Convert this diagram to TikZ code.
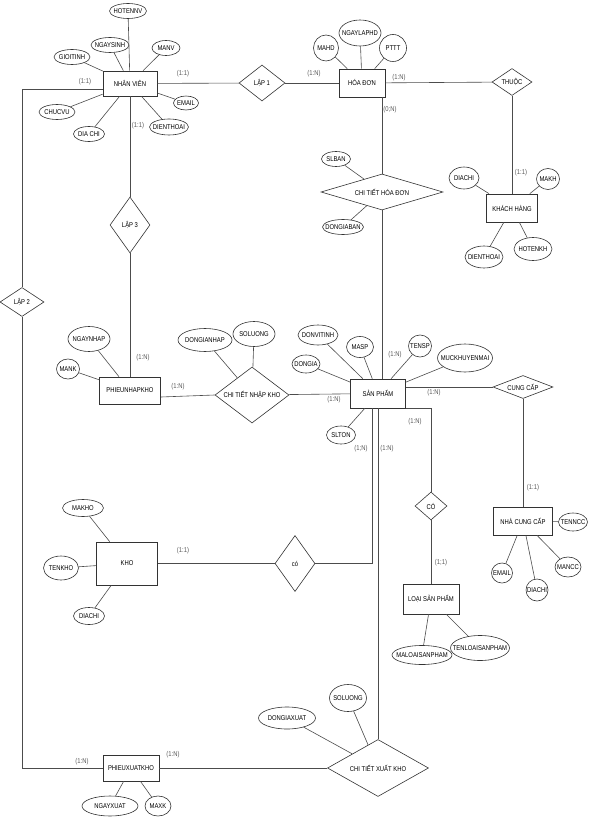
\documentclass[tikz,border=0pt]{standalone}
\usepackage{fontspec}
\setmainfont{Liberation Sans}[FakeStretch=0.84]
\usepackage{tikz}
\usetikzlibrary{shapes.geometric}

\tikzset{
  boxtext/.style={execute at begin node={\hbox to 0pt\bgroup\hss}, execute at end node={\hss\egroup}},
  entity/.style 2 args={rectangle, draw=black!80, line width=0.7pt, minimum width=#1, minimum height=#2},
  attr/.style 2 args={ellipse, draw=black!80, line width=0.6pt, boxtext, minimum width=#1, minimum height=#2},
  rel/.style 2 args={diamond, draw=black!80, line width=0.6pt, boxtext, minimum width=#1, minimum height=#2},
  card/.style={text=black!65}
}

\begin{document}
\begin{tikzpicture}[x=1pt,y=-1pt,every node/.style={font=\fontsize{7}{8}\selectfont, inner sep=0pt},
    every edge/.style={draw=black!70, line width=0.6pt}, conn/.style={draw=black!70, line width=0.6pt}]
  \fill[white] (0,0) rectangle (592,818);
  \useasboundingbox (0,0) rectangle (592,818);

  % entities
  \node[entity={54}{25}] (nv) at (130,83.5) {NHÂN VIÊN};
  \node[entity={46}{28}] (hd) at (362,83) {HÓA ĐƠN};
  \node[entity={51}{28}] (kh) at (512,208) {KHÁCH HÀNG};
  \node[entity={61}{27}] (pnk) at (130,390.5) {PHIEUNHAPKHO};
  \node[entity={55}{29}] (sp) at (378,393.5) {SẢN PHẨM};
  \node[entity={59}{28}] (ncc) at (523,521) {NHÀ CUNG CẤP};
  \node[entity={56}{30}] (lsp) at (431,599) {LOẠI SẢN PHẨM};
  \node[entity={61}{43}] (kho) at (127,563.5) {KHO};
  \node[entity={56}{26}] (pxk) at (131,768) {PHIEUXUATKHO};

  % relationships
  \node[rel={46}{36}] (lap1) at (262,83) {LẬP 1};
  \node[rel={44}{29}] (lap2) at (22,302) {LẬP 2};
  \node[rel={40}{56}] (lap3) at (130,225) {LẬP 3};
  \node[rel={40}{27}] (thuoc) at (512,82) {THUỘC};
  \node[rel={122}{36}] (cthd) at (382,192) {CHI TIẾT HÓA ĐƠN};
  \node[rel={74}{56}] (ctnk) at (252,395) {CHI TIẾT NHẬP KHO};
  \node[rel={60}{23}] (cc) at (523,387) {CUNG CẤP};
  \node[rel={32}{28}] (co) at (431,506) {CÓ};
  \node[rel={40}{56}] (cokho) at (295,563.5) {có};
  \node[rel={101}{57}] (ctxk) at (378,768) {CHI TIẾT XUẤT KHO};

  % attributes
  \node[attr={37}{15}] (hotennv) at (128,11) {HOTENNV};
  \node[attr={38}{15}] (ngaysinh) at (110,45) {NGAYSINH};
  \node[attr={36}{15}] (gioitinh) at (72,57) {GIOITINH};
  \node[attr={28}{15}] (manv) at (166,48) {MANV};
  \node[attr={25}{14}] (emailnv) at (186,103) {EMAIL};
  \node[attr={39}{16}] (dtnv) at (169,127) {DIENTHOAI};
  \node[attr={31}{15}] (diachinv) at (89,134) {DIA CHI};
  \node[attr={36}{15}] (chucvu) at (57,112) {CHUCVU};

  \node[attr={25}{26}] (mahd) at (326,48) {MAHD};
  \node[attr={42}{26}] (ngaylaphd) at (360,33) {NGAYLAPHD};
  \node[attr={27}{27}] (pttt) at (393,48) {PTTT};
  \node[attr={29}{15}] (slban) at (336,159) {SLBAN};
  \node[attr={41}{15}] (dongiaban) at (343,227) {DONGIABAN};

  \node[attr={30}{22}] (diachikh) at (464,178) {DIACHI};
  \node[attr={23}{21}] (makh) at (548,179) {MAKH};
  \node[attr={38}{22}] (dtkh) at (484,257) {DIENTHOAI};
  \node[attr={38}{23}] (hotenkh) at (533,249) {HOTENKH};

  \node[attr={42}{25}] (ngaynhap) at (89,339) {NGAYNHAP};
  \node[attr={23}{20}] (mank) at (68,369) {MANK};
  \node[attr={54}{23}] (dongianhap) at (205,340) {DONGIANHAP};
  \node[attr={42}{25}] (slnhap) at (254,334) {SOLUONG};

  \node[attr={40}{20}] (donvitinh) at (318,335) {DONVITINH};
  \node[attr={28}{18}] (dongia) at (306,364) {DONGIA};
  \node[attr={27}{21}] (masp) at (360,347) {MASP};
  \node[attr={23}{22}] (tensp) at (420,346) {TENSP};
  \node[attr={55}{28}] (muckm) at (465,358) {MUCKHUYENMAI};
  \node[attr={29}{18}] (slton) at (341,435) {SLTON};

  \node[attr={29}{18}] (tenncc) at (573,522) {TENNCC};
  \node[attr={21}{20}] (emailncc) at (502,573) {EMAIL};
  \node[attr={22}{22}] (diachincc) at (537,590) {DIACHI};
  \node[attr={26}{20}] (mancc) at (568,567) {MANCC};
  \node[attr={60}{19}] (maloai) at (422,655) {MALOAISANPHAM};
  \node[attr={59}{25}] (tenloai) at (480,648) {TENLOAISANPHAM};

  \node[attr={41}{17}] (makho) at (83,508) {MAKHO};
  \node[attr={35}{24}] (tenkho) at (61,568) {TENKHO};
  \node[attr={31}{17}] (diachikho) at (89,616) {DIACHI};

  \node[attr={56}{20}] (ngayxuat) at (110,806) {NGAYXUAT};
  \node[attr={26}{20}] (maxk) at (158,806) {MAXK};
  \node[attr={57}{22}] (dongiaxuat) at (287,718) {DONGIAXUAT};
  \node[attr={37}{27}] (slxuat) at (348,698) {SOLUONG};

  % cardinalities
  \node[card] (c1) at (183,74) {(1:1)};
  \node[card] (c2) at (85,82) {(1:1)};
  \node[card] (c3) at (138,126) {(1:1)};
  \node[card] (c4) at (314,74) {(1:N)};
  \node[card] (c5) at (399,78) {(1:N)};
  \node[card] (c6) at (390,110) {(0;N)};
  \node[card] (c7) at (521,173) {(1:1)};
  \node[card] (c8) at (143,358) {(1:N)};
  \node[card] (c9) at (178,387) {(1:N)};
  \node[card] (c10) at (395,355) {(1:N)};
  \node[card] (c11) at (334,400) {(1:N)};
  \node[card] (c12) at (434,393) {(1:N)};
  \node[card] (c13) at (415,422) {(1:N)};
  \node[card] (c14) at (361,449) {(1;N)};
  \node[card] (c15) at (387,449) {(1:N)};
  \node[card] (c16) at (533,488) {(1:1)};
  \node[card] (c17) at (441,563) {(1;1)};
  \node[card] (c18) at (183,551) {(1:1)};
  \node[card] (c19) at (82,762) {(1:N)};
  \node[card] (c20) at (173,755) {(1:N)};

  % relationship lines
  \path (nv) edge (lap1);
  \path (lap1) edge (hd);
  \path (hd) edge (thuoc);
  \path (thuoc) edge (kh);
  \path (nv) edge (lap3);
  \path (lap3) edge (pnk);
  \draw[conn] ([yshift=-5.5pt]nv.west) -| (lap2.north);
  \draw[conn] (lap2.south) |- (pxk.west);
  \draw[conn] (hd.south -| cthd.north) -- (cthd.north);
  \draw[conn] (cthd.south) -- (cthd.south |- sp.north);
  \draw[conn] ([yshift=-6.5pt]pnk.east) -- (ctnk.west);
  \path (ctnk) edge (sp);
  \draw[conn] (sp.east |- cc.west) -- (cc.west);
  \path (cc) edge (ncc);
  \draw[conn] (sp.south east) -| (co.north);
  \path (co) edge (lsp);
  \draw[conn] ([xshift=-6pt]sp.south) |- (cokho.east);
  \path (kho) edge (cokho);
  \draw[conn] (sp.south) -- (ctxk.north);
  \path (ctxk) edge (pxk);

  % attribute lines
  \path (nv) edge (hotennv) edge (ngaysinh) edge (gioitinh) edge (manv)
             edge (emailnv) edge (dtnv) edge (diachinv) edge (chucvu);
  \path (hd) edge (mahd) edge (ngaylaphd) edge (pttt);
  \path (cthd) edge (slban) edge (dongiaban);
  \path (kh) edge (diachikh) edge (makh) edge (dtkh) edge (hotenkh);
  \path (pnk) edge (ngaynhap) edge (mank);
  \path (ctnk) edge (dongianhap) edge (slnhap);
  \path (sp) edge (donvitinh) edge (dongia) edge (masp) edge (tensp)
             edge (muckm) edge (slton);
  \path (ncc) edge (tenncc) edge (emailncc) edge (diachincc) edge (mancc);
  \path (lsp) edge (maloai) edge (tenloai);
  \path (kho) edge (makho) edge (tenkho) edge (diachikho);
  \path (pxk) edge (ngayxuat) edge (maxk);
  \path (ctxk) edge (dongiaxuat) edge (slxuat);
\end{tikzpicture}
\end{document}
